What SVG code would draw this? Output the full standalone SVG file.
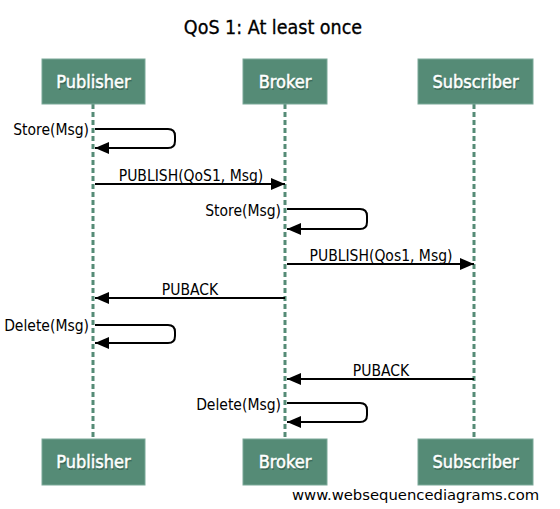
<svg xmlns="http://www.w3.org/2000/svg" width="560" height="509" viewBox="0 0 560 509">
<style>
.box{fill:#558b76;stroke:#7aa898;stroke-width:1}
.bt{font-family:"DejaVu Sans Condensed","DejaVu Sans",sans-serif;font-size:18px;fill:#fff;stroke:#fff;stroke-width:0.45;text-anchor:middle}
.sh{font-family:"DejaVu Sans Condensed","DejaVu Sans",sans-serif;font-size:18px;fill:#2f5446;text-anchor:middle;opacity:0.6}
.life{stroke:#558b76;stroke-width:3;stroke-dasharray:5,3;fill:none}
.msg{stroke:#000;stroke-width:2;fill:none}
.lbl{font-family:"DejaVu Sans Condensed","DejaVu Sans",sans-serif;font-size:15.5px;fill:#000}
.r{text-anchor:end}
.m{text-anchor:middle}
</style>
<defs>
<marker id="ah" viewBox="0 0 14 12" refX="14" refY="6" markerWidth="14" markerHeight="12" markerUnits="userSpaceOnUse" orient="auto">
<path d="M0,0 L14,6 L0,12 Z" fill="#000"/>
</marker>
</defs>
<rect width="560" height="509" fill="#fff"/>
<text x="273" y="34" font-family="DejaVu Sans Condensed,DejaVu Sans,sans-serif" font-size="19.5" text-anchor="middle" fill="#000" stroke="#000" stroke-width="0.3">QoS 1: At least once</text>
<g id="lifelines">
<line class="life" x1="93" y1="104" x2="93" y2="439"/>
<line class="life" x1="285" y1="104" x2="285" y2="439"/>
<line class="life" x1="474" y1="104" x2="474" y2="439"/>
</g>
<g id="publisher-top"><rect class="box" x="42" y="59" width="103" height="45"/><text class="sh" x="94.5" y="89.5">Publisher</text><text class="bt" x="93.5" y="88">Publisher</text></g>
<g id="broker-top"><rect class="box" x="243" y="59" width="84" height="45"/><text class="sh" x="286" y="89.5">Broker</text><text class="bt" x="285" y="88">Broker</text></g>
<g id="subscriber-top"><rect class="box" x="418" y="59" width="115" height="45"/><text class="sh" x="476.5" y="89.5">Subscriber</text><text class="bt" x="475.5" y="88">Subscriber</text></g>
<g id="publisher-bottom"><rect class="box" x="42" y="439" width="103" height="46"/><text class="sh" x="94.5" y="469.5">Publisher</text><text class="bt" x="93.5" y="468">Publisher</text></g>
<g id="broker-bottom"><rect class="box" x="243" y="439" width="84" height="46"/><text class="sh" x="286" y="469.5">Broker</text><text class="bt" x="285" y="468">Broker</text></g>
<g id="subscriber-bottom"><rect class="box" x="418" y="439" width="115" height="46"/><text class="sh" x="476.5" y="469.5">Subscriber</text><text class="bt" x="475.5" y="468">Subscriber</text></g>
<g id="connectors">
<path class="msg" d="M95,129 H168 Q175,129 175,136 V141 Q175,148 168,148 H95" marker-end="url(#ah)"/>
<text class="lbl r" x="89" y="135">Store(Msg)</text>
<line class="msg" x1="95" y1="184" x2="285" y2="184" marker-end="url(#ah)"/>
<text class="lbl m" x="191" y="181">PUBLISH(QoS1, Msg)</text>
<path class="msg" d="M287,209 H360 Q367,209 367,216 V222 Q367,229 360,229 H287" marker-end="url(#ah)"/>
<text class="lbl r" x="281" y="216">Store(Msg)</text>
<line class="msg" x1="287" y1="264" x2="474" y2="264" marker-end="url(#ah)"/>
<text class="lbl m" x="381" y="261">PUBLISH(Qos1, Msg)</text>
<line class="msg" x1="285" y1="298" x2="95" y2="298" marker-end="url(#ah)"/>
<text class="lbl m" x="190" y="295">PUBACK</text>
<path class="msg" d="M95,325 H168 Q175,325 175,332 V336 Q175,343 168,343 H95" marker-end="url(#ah)"/>
<text class="lbl r" x="89" y="331">Delete(Msg)</text>
<line class="msg" x1="474" y1="379" x2="287" y2="379" marker-end="url(#ah)"/>
<text class="lbl m" x="381" y="376">PUBACK</text>
<path class="msg" d="M287,403 H360 Q367,403 367,410 V415 Q367,422 360,422 H287" marker-end="url(#ah)"/>
<text class="lbl r" x="281" y="410">Delete(Msg)</text>
</g>
<text x="292" y="500" font-family="DejaVu Sans,Verdana,sans-serif" font-size="14.8" fill="#000">www.websequencediagrams.com</text>
</svg>
